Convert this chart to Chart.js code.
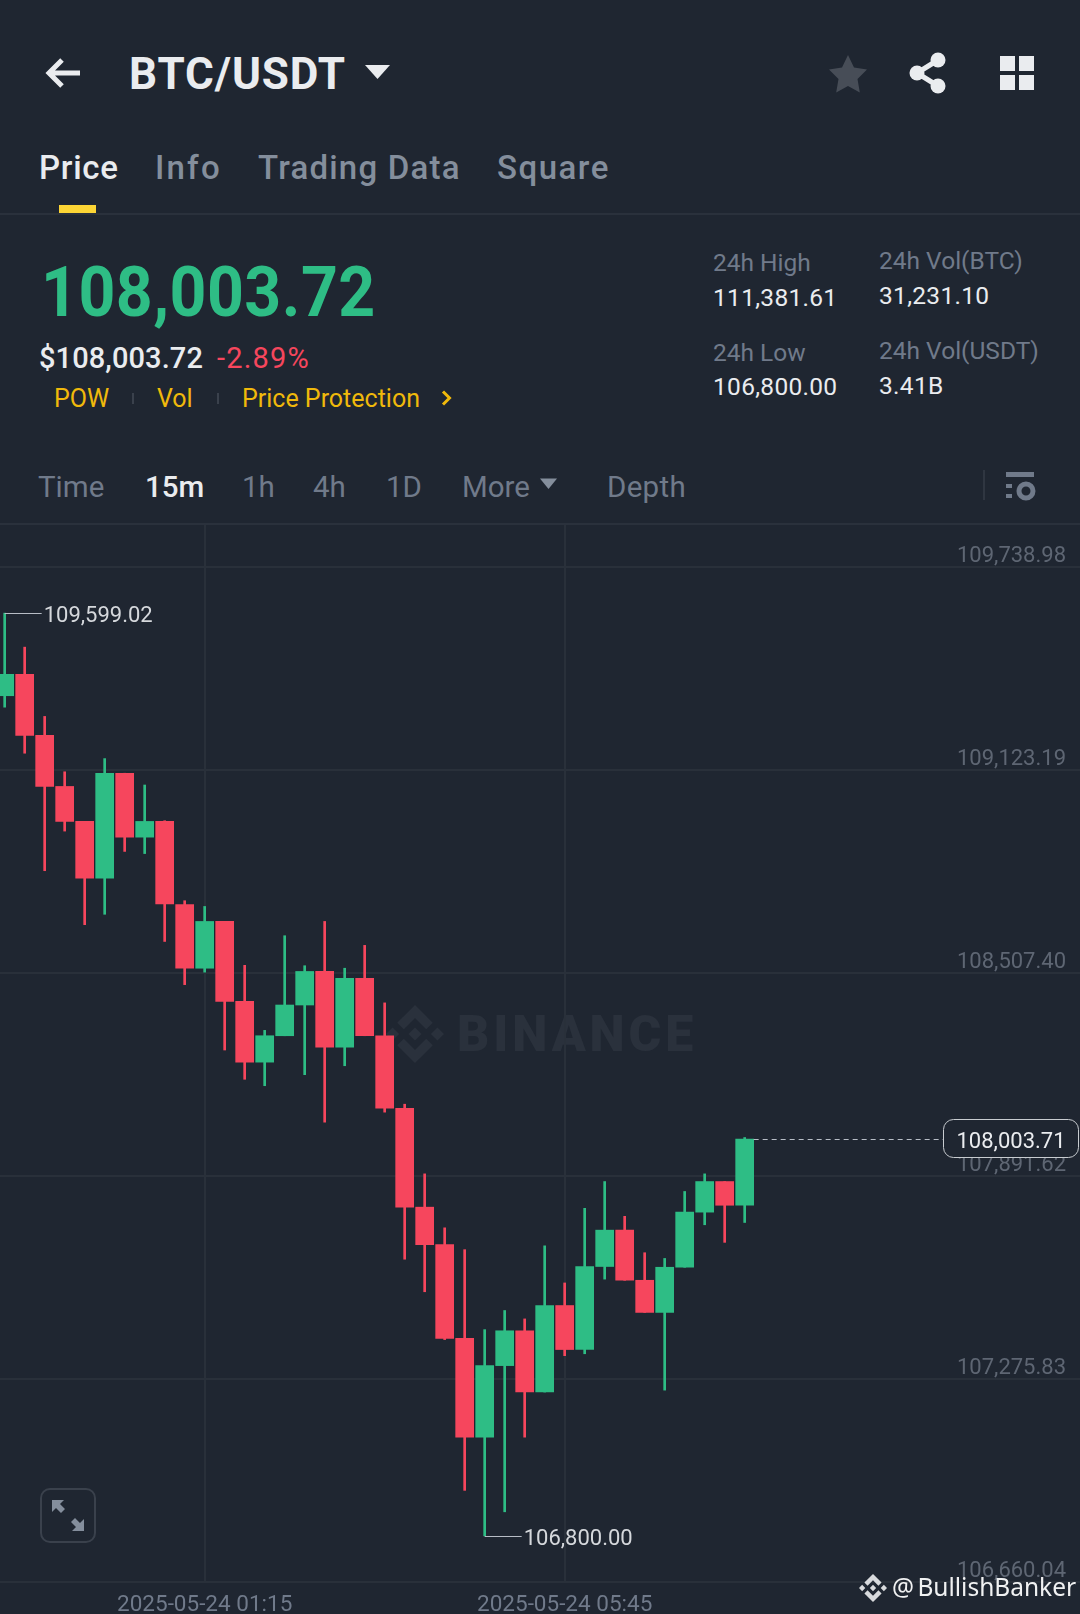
<!DOCTYPE html>
<html lang="en">
<head>
<meta charset="UTF-8">
<title>BTC/USDT</title>
<script src="https://cdn.jsdelivr.net/npm/chart.js"></script>
<style>
    html, body { margin: 0; padding: 0; background: #1f2631; }
    body { position: relative; width: 1080px; height: 1614px; overflow: hidden; font-family: Roboto, sans-serif; }
    .t { position: absolute; white-space: nowrap; line-height: 1; }
    .dim { color: #848e9c; font-weight: 500; }
    .gray { color: #707a8a; }
    .white { color: #eaecef; }
    .yellow { color: #f0b90b; }
    .tab { font-size: 33px; letter-spacing: 1.2px; top: 151px; }
    .stat { font-size: 24.5px; }
    .num { letter-spacing: .3px; }
    .iv { font-size: 29.5px; top: 473px; }
    .rule { position: absolute; left: 0; width: 1080px; height: 2px; background: #2a313c; }
    svg { position: absolute; }
    #chart { position: absolute; left: 0; top: 525px; z-index: 2; }
    .over { z-index: 3; }
</style>
</head>
<body>
    <!-- header -->
    <svg style="left:44px;top:54px" width="40" height="40" viewBox="0 0 40 40"><path d="M36 19H7M18 6 5 19l13 13" fill="none" stroke="#eaecef" stroke-width="5"/></svg>
    <div class="t" style="left:129px;top:52px;font-size:44px;font-weight:700;color:#eaecef;letter-spacing:.9px">BTC/USDT</div>
    <svg style="left:365px;top:64px" width="26" height="16"><path d="M0 1h25L12.5 15z" fill="#eaecef"/></svg>
    <svg style="left:828px;top:54px" width="40" height="40" viewBox="0 0 40 40"><path d="M20 1l6 12.500 13 1.900-9.500 9.500 2.300 13.600L20 32l-11.800 6.500 2.300-13.600L1 15.400l13-1.900z" fill="#474d57"/></svg>
    <svg style="left:908px;top:52px" width="40" height="42" viewBox="0 0 40 42"><path d="M30 8 9 21l21 13" fill="none" stroke="#eaecef" stroke-width="5"/><circle cx="30" cy="8" r="7.500" fill="#eaecef"/><circle cx="9" cy="21" r="7.500" fill="#eaecef"/><circle cx="30" cy="34" r="7.500" fill="#eaecef"/></svg>
    <svg style="left:1000px;top:56px" width="34" height="34"><path d="M0 0h15v15H0zM19 0h15v15H19zM0 19h15v15H0zM19 19h15v15H19z" fill="#eaecef"/></svg>

    <div class="t tab" style="left:39px;font-weight:500;color:#eaecef;letter-spacing:.7px">Price</div>
    <div class="t tab dim" style="left:155px;letter-spacing:2.200px">Info</div>
    <div class="t tab dim" style="left:258px">Trading Data</div>
    <div class="t tab dim" style="left:497px;letter-spacing:1.500px">Square</div>
    <div style="position:absolute;left:59px;top:205px;width:37px;height:8px;background:#fcd535"></div>
    <div class="rule" style="top:213px"></div>

    <!-- price block -->
    <div class="t" style="left:41px;top:257px;font-size:70px;font-weight:700;color:#2ebd85;letter-spacing:.5px;transform:scaleX(.92);transform-origin:left">108,003.72</div>
    <div class="t white" style="left:39px;top:344px;font-size:29px;font-weight:500;letter-spacing:.1px">$108,003.72</div>
    <div class="t" style="left:217px;top:344px;font-size:29px;color:#f6465d;letter-spacing:1.200px">-2.89%</div>
    <div class="t yellow" style="left:54px;top:386px;font-size:25px">POW</div>
    <div style="position:absolute;left:132px;top:393px;width:2px;height:11px;background:#3a414c"></div>
    <div class="t yellow" style="left:157px;top:386px;font-size:25px">Vol</div>
    <div style="position:absolute;left:217px;top:393px;width:2px;height:11px;background:#3a414c"></div>
    <div class="t yellow" style="left:242px;top:386px;font-size:25px">Price Protection</div>
    <svg style="left:441px;top:390px" width="12" height="16"><path d="M2 1.500 8.500 8 2 14.500" fill="none" stroke="#f0b90b" stroke-width="3"/></svg>

    <div class="t gray stat" style="left:713px;top:251px">24h High</div>
    <div class="t white stat num" style="left:713px;top:286px">111,381.61</div>
    <div class="t gray stat" style="left:713px;top:341px">24h Low</div>
    <div class="t white stat num" style="left:713px;top:375px">106,800.00</div>
    <div class="t gray stat" style="left:879px;top:249px">24h Vol(BTC)</div>
    <div class="t white stat num" style="left:879px;top:284px">31,231.10</div>
    <div class="t gray stat" style="left:879px;top:339px">24h Vol(USDT)</div>
    <div class="t white stat num" style="left:879px;top:374px">3.41B</div>

    <!-- interval row -->
    <div class="t gray iv" style="left:38px">Time</div>
    <div class="t white iv" style="left:145px;font-weight:500">15m</div>
    <div class="t gray iv" style="left:242px">1h</div>
    <div class="t gray iv" style="left:313px">4h</div>
    <div class="t gray iv" style="left:386px">1D</div>
    <div class="t gray iv" style="left:462px">More</div>
    <svg style="left:540px;top:478px" width="17" height="12"><path d="M0 .500h17L8.500 11z" fill="#848e9c"/></svg>
    <div class="t gray iv" style="left:607px;letter-spacing:.3px">Depth</div>
    <div style="position:absolute;left:983px;top:470px;width:2px;height:30px;background:#2f3641"></div>
    <svg style="left:1005px;top:470px" width="32" height="32"><path d="M1 2h28v5H1zM1 14h6v4H1zM1 24h6v4H1z" fill="#707a8a"/><circle cx="21" cy="21" r="7" fill="none" stroke="#707a8a" stroke-width="5"/></svg>
    <div class="rule" style="top:523px"></div>

    <!-- watermark sits under the canvas -->
    <svg style="left:386px;top:1005px" width="58" height="58" viewBox="0 0 32 32"><path d="M9.800 13.400 16 7.200l6.200 6.200 3.600-3.600L16 0 6.200 9.800zM9.800 18.600 16 24.800l6.200-6.200 3.600 3.600L16 32l-9.800-9.800zM0 16l3.600-3.600L7.200 16l-3.600 3.600zM24.800 16l3.600-3.600L32 16l-3.600 3.600zM12.400 16 16 12.400l3.600 3.600-3.600 3.600z" fill="#2a313c"/></svg>
    <div class="t" style="left:457px;top:1009px;font-size:50px;font-weight:900;color:#2a313c;letter-spacing:3.900px">BINANCE</div>

    <canvas id="chart" width="1080" height="1089"></canvas>

    <svg class="over" style="left:40px;top:1488px" width="56" height="55"><rect x="1" y="1" width="54" height="53" rx="9" fill="none" stroke="#3a414c" stroke-width="2"/><path d="M12 12h12l-4 4 5 5-4 4-5-5-4 4zM44 43H32l4-4-5-5 4-4 5 5 4-4z" fill="#848e9c"/></svg>
    <svg class="over" style="left:859px;top:1574px" width="28" height="28" viewBox="0 0 32 32"><path d="M9.800 13.400 16 7.200l6.200 6.200 3.600-3.600L16 0 6.200 9.800zM9.800 18.600 16 24.800l6.200-6.200 3.600 3.600L16 32l-9.800-9.800zM0 16l3.600-3.600L7.200 16l-3.600 3.600zM24.800 16l3.600-3.600L32 16l-3.600 3.600zM12.400 16 16 12.400l3.600 3.600-3.600 3.600z" fill="#d8dadd"/></svg>
    <div class="t over" style="left:892px;top:1575px;font-size:24.5px;word-spacing:-3px;color:#f0f1f2;font-family:'Noto Sans',sans-serif">@ BullishBanker</div>

    <script>
        var times = [
            '2025-05-23 22:45', '2025-05-23 23:00', '2025-05-23 23:15', '2025-05-23 23:30', '2025-05-23 23:45',
            '2025-05-24 00:00', '2025-05-24 00:15', '2025-05-24 00:30', '2025-05-24 00:45', '2025-05-24 01:00',
            '2025-05-24 01:15', '2025-05-24 01:30', '2025-05-24 01:45', '2025-05-24 02:00', '2025-05-24 02:15',
            '2025-05-24 02:30', '2025-05-24 02:45', '2025-05-24 03:00', '2025-05-24 03:15', '2025-05-24 03:30',
            '2025-05-24 03:45', '2025-05-24 04:00', '2025-05-24 04:15', '2025-05-24 04:30', '2025-05-24 04:45',
            '2025-05-24 05:00', '2025-05-24 05:15', '2025-05-24 05:30', '2025-05-24 05:45', '2025-05-24 06:00',
            '2025-05-24 06:15', '2025-05-24 06:30', '2025-05-24 06:45', '2025-05-24 07:00', '2025-05-24 07:15',
            '2025-05-24 07:30', '2025-05-24 07:45', '2025-05-24 08:00'
        ];
        var opens = [
            109348.5, 109413.5, 109228.3, 109073.3, 108967.2, 108794.9, 109113.4, 108919.5, 108967.2, 108714.7,
            108521.9, 108663.8, 108421.1, 108237.0, 108317.1, 108410.3, 108512.1, 108282.5, 108491.6, 108317.1,
            108096.6, 107797.1, 107683.3, 107398.9, 107099.4, 107316.4, 107422.1, 107236.3, 107498.7, 107365.2,
            107617.1, 107727.4, 107575.3, 107477.8, 107614.8, 107782.0, 107874.8, 107802.9
        ];
        var highs = [
            109599.02, 109495.9, 109285.7, 109117.8, 108967.2, 109157.8, 109113.4, 109077.7, 108969.3, 108726.7,
            108709.3, 108663.8, 108530.6, 108333.4, 108620.5, 108529.5, 108663.8, 108521.9, 108591.2, 108416.8,
            108109.4, 107898.1, 107734.4, 107668.2, 107425.6, 107483.6, 107458.1, 107679.8, 107567.2, 107793.6,
            107874.8, 107769.2, 107658.9, 107641.5, 107844.7, 107898.1, 107874.8, 108008.3
        ];
        var lows = [
            109313.8, 109174.1, 108817.7, 108937.9, 108654.1, 108685.5, 108876.2, 108869.7, 108603.1, 108472.1,
            108510.0, 108273.8, 108185.0, 108165.5, 108317.1, 108199.0, 108054.9, 108226.1, 108317.1, 108085.3,
            107639.2, 107540.5, 107395.4, 106938.0, 106800.00, 106873.0, 107099.4, 107236.3, 107346.6, 107352.4,
            107578.8, 107575.3, 107477.8, 107242.1, 107614.8, 107743.7, 107690.3, 107750.6
        ];
        var closes = [
            109413.5, 109228.3, 109073.3, 108967.2, 108794.9, 109113.4, 108919.5, 108967.2, 108716.9, 108521.9,
            108663.8, 108421.1, 108237.0, 108317.1, 108410.3, 108512.1, 108282.5, 108491.6, 108317.1, 108097.2,
            107797.1, 107683.3, 107398.9, 107099.4, 107316.4, 107422.1, 107236.3, 107498.7, 107365.2, 107617.1,
            107727.4, 107575.3, 107477.8, 107614.8, 107782.0, 107874.8, 107802.9, 108003.71
        ];
        var priceTicks = [109738.98, 109123.19, 108507.40, 107891.62, 107275.83, 106660.04];
        var timeTicks = ['2025-05-24 01:15', '2025-05-24 05:45'];
        var axisTop = 109866.4;
        var lastPrice = 108003.71;
        var highMark = { index: 0, value: 109599.02 };
        var lowMark = { index: 24, value: 106800.00 };

        var UP = '#2ebd85', DOWN = '#f6465d';
        var candleColors = opens.map(function(o, i) { return closes[i] >= o ? UP : DOWN; });

        function fmt(v) {
            return v.toLocaleString('en-US', { minimumFractionDigits: 2, maximumFractionDigits: 2 });
        }

        // high/low leaders and the last price tag
        var marks = {
            id: 'marks',
            afterDatasetsDraw: function(chart) {
                var ctx = chart.ctx, x = chart.scales.x, y = chart.scales.y;
                ctx.save();
                ctx.font = '22px Roboto';
                ctx.textBaseline = 'middle';
                ctx.textAlign = 'left';
                [highMark, lowMark].forEach(function(m) {
                    var px = x.getPixelForValue(m.index), py = Math.round(y.getPixelForValue(m.value));
                    ctx.strokeStyle = '#b7bdc6';
                    ctx.lineWidth = 1;
                    ctx.beginPath();
                    ctx.moveTo(px, py + 0.5);
                    ctx.lineTo(px + 37, py + 0.5);
                    ctx.stroke();
                    ctx.fillStyle = '#d5d8dc';
                    ctx.fillText(fmt(m.value), px + 39, py + 3);
                });
                var last = x.getPixelForValue(opens.length - 1) + 9, py = Math.round(y.getPixelForValue(lastPrice));
                ctx.strokeStyle = '#b7bdc6';
                ctx.setLineDash([5, 4]);
                ctx.beginPath();
                ctx.moveTo(last, py + 0.5);
                ctx.lineTo(943, py + 0.5);
                ctx.stroke();
                ctx.setLineDash([]);
                ctx.fillStyle = '#1f2631';
                ctx.strokeStyle = '#c8ccd0';
                ctx.beginPath();
                ctx.roundRect(943.5, py - 19.5, 135, 38, 10);
                ctx.fill();
                ctx.stroke();
                ctx.fillStyle = '#eaecef';
                ctx.textAlign = 'center';
                ctx.fillText(fmt(lastPrice), 1011, py + 3);
                ctx.restore();
            }
        };

        new Chart(document.getElementById('chart'), {
            type: 'bar',
            plugins: [marks],
            data: {
                datasets: [{
                    label: 'Body',
                    order: 1,
                    barThickness: 18,
                    backgroundColor: candleColors,
                    data: opens.map(function(o, i) { return { x: i, y: [o, closes[i]] }; })
                }, {
                    label: 'Wick',
                    order: 2,
                    barThickness: 2,
                    backgroundColor: candleColors,
                    data: lows.map(function(l, i) { return { x: i, y: [l, highs[i]] }; })
                }]
            },
            options: {
                responsive: false,
                animation: false,
                layout: { padding: 0 },
                plugins: { legend: { display: false }, tooltip: { enabled: false } },
                datasets: { bar: { grouped: false } },
                scales: {
                    x: {
                        type: 'linear',
                        offset: false,
                        min: -0.2335,
                        max: 53.7665,
                        afterFit: function(scale) { scale.height = 32; },
                        afterBuildTicks: function(scale) {
                            scale.ticks = timeTicks.map(function(t) { return { value: times.indexOf(t) }; });
                        },
                        border: { display: false },
                        grid: { offset: false, color: '#29303a', lineWidth: 2, drawTicks: false },
                        ticks: {
                            autoSkip: false,
                            maxRotation: 0,
                            padding: 10,
                            color: '#707a8a',
                            font: { family: 'Roboto', size: 22.5 },
                            callback: function(v) { return times[v]; }
                        }
                    },
                    y: {
                        position: 'right',
                        min: priceTicks[priceTicks.length - 1],
                        max: axisTop,
                        afterFit: function(scale) { scale.width = 0; },
                        afterBuildTicks: function(scale) {
                            scale.ticks = priceTicks.map(function(v) { return { value: v }; });
                        },
                        border: { display: false },
                        grid: { color: '#29303a', lineWidth: 2, drawTicks: false },
                        ticks: {
                            mirror: true,
                            padding: -14,
                            labelOffset: -11,
                            color: '#5e6673',
                            font: { family: 'Roboto', size: 22 },
                            callback: function(v) { return fmt(v); }
                        }
                    }
                }
            }
        });
    </script>
</body>
</html>
